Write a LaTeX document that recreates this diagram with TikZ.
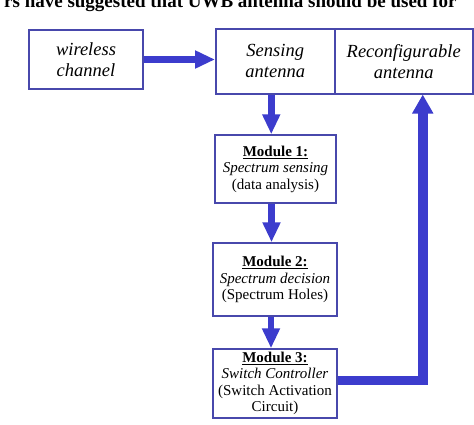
\documentclass[tikz,border=0pt]{standalone}
\usepackage{fontspec}
\setmainfont{Liberation Serif}
\usepackage{xcolor}
\usepackage{tikz}
\usetikzlibrary{arrows.meta, positioning}
\definecolor{boxblue}{RGB}{72,72,172}
\definecolor{flowblue}{RGB}{60,60,205}
\tikzstyle{antbox} = [rectangle, draw=boxblue, line width=1.5pt, inner sep=0pt,
    align=center, font=\fontsize{18.5}{21}\selectfont\itshape]
\tikzstyle{modbox} = [rectangle, draw=boxblue, line width=1.5pt, inner sep=0pt,
    align=center, font=\fontsize{15}{16.5}\selectfont]
\tikzstyle{flow} = [draw=flowblue, line width=6.5pt,
    -{Triangle[length=20pt, width=17pt]}, color=flowblue]

\begin{document}
\begin{tikzpicture}[x=1pt, y=-1pt]

    \useasboundingbox (0,0) rectangle (474,424);

    % ===============================
    % 1. NODES
    % ===============================

    % cut-off sentence at the top
    \node[anchor=base west, inner sep=0pt, font=\fontsize{19}{21}\selectfont\bfseries] (topline) at (4,7) {
        rs have suggested that UWB antenna should be used for
    };

    % Top row
    \node[antbox, minimum width=114pt, minimum height=59pt] (wireless) at (86, 59.5) {
        wireless\\channel
    };
    \node[antbox, minimum width=119pt, minimum height=65pt, anchor=north west] (sensing) at (215, 28) {
        Sensing\\antenna
    };
    \node[antbox, minimum width=138pt, minimum height=65pt, anchor=north west] (reconf) at (334, 28) {
        Reconfigurable\\antenna
    };

    % -------------------------------
    % MODULES
    % -------------------------------
    \node[modbox, minimum width=121pt, minimum height=68pt] (mod1) at (275.5, 169) {
        \underline{\textbf{Module 1:}}\\ \textit{Spectrum sensing}\\ (data analysis)
    };
    \node[modbox, minimum width=124pt, minimum height=73pt] (mod2) at (275, 279.5) {
        \underline{\textbf{Module 2:}}\\ \textit{Spectrum decision}\\ (Spectrum Holes)
    };
    \node[modbox, minimum width=124pt, minimum height=69pt] (mod3) at (275, 383.5) {
        \underline{\textbf{Module 3:}}\\ \textit{Switch Controller}\\ (Switch Activation\\ Circuit)
    };

    % ===============================
    % 2. CONNECTIONS
    % ===============================

    \draw[flow] (wireless.east) -- (sensing.west |- wireless.east);
    \draw[flow] ([xshift=-4pt]sensing.south) -- ([xshift=-4pt]sensing.south |- mod1.north);
    \draw[flow] ([xshift=-4pt]mod1.south) -- ([xshift=-4pt]mod1.south |- mod2.north);
    \draw[flow] ([xshift=-4pt]mod2.south) -- ([xshift=-4pt]mod2.south |- mod3.north);

    % Switch controller back up to the reconfigurable antenna
    \draw[flow, line width=9.5pt, -{Triangle[length=19pt, width=20pt]}]
        ([yshift=3pt]mod3.east) -| ([xshift=19pt]reconf.south);

\end{tikzpicture}
\end{document}
